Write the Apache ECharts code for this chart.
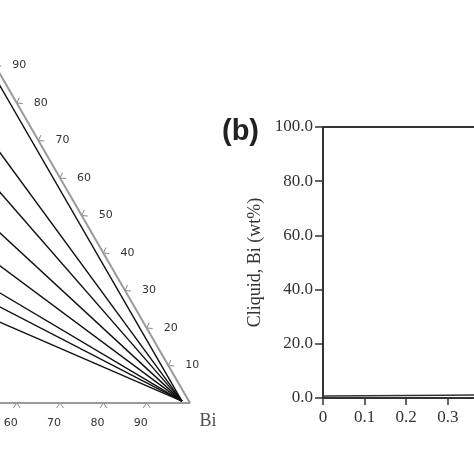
<!DOCTYPE html>
<html>
<head>
<meta charset="utf-8">
<script src="https://cdn.jsdelivr.net/npm/echarts@6/dist/echarts.min.js"></script>
<style>
  html, body { margin: 0; padding: 0; background: #fff; }
  #chart { width: 474px; height: 474px; }
</style>
</head>
<body>
<div id="chart"></div>
<script>
// (a) ternary diagram, compositions as [Bi wt%, top component wt%]
const biTicks = [10, 20, 30, 40, 50, 60, 70, 80, 90];
const topTicks = [10, 20, 30, 40, 50, 60, 70, 80, 90];
const liquidPoint = [97.9, 0.5];
// far ends of the tie-lines where they leave the picture
const tieEnds = [
  [1.6, 96.8],
  [18.7, 70.3],
  [24.1, 59.3],
  [29.9, 47.8],
  [34.6, 38.5],
  [38.4, 30.9],
  [40.3, 27.0],
  [42.4, 22.7]
];
const corners = [[0, 100], [100, 0], [0, 0]];

// (b) liquid composition vs x
const xValues = [0, 0.1, 0.2, 0.3, 0.4, 0.5, 0.6];
const cLiquidBi = [0.7, 0.8, 0.9, 1.0, 1.1, 1.2, 1.3];

// ternary -> cartesian
function tern(c) {
  return [c[0] + c[1] / 2, c[1] * Math.sqrt(3) / 2];
}

const chartDom = document.getElementById('chart');
const myChart = echarts.init(chartDom);

const tieSeries = tieEnds.map(function (end) {
  return {
    type: 'line',
    xAxisIndex: 0,
    yAxisIndex: 0,
    data: [tern(liquidPoint), tern(end)],
    showSymbol: false,
    silent: true,
    lineStyle: { color: '#111', width: 1.4 }
  };
});

// tick items: [edge, value]  edge 0 = bottom (Bi), 1 = right edge (top component)
const tickItems = biTicks.map(v => [0, v]).concat(topTicks.map(v => [1, v]));

function renderTick(params, api) {
  const edge = api.value(0);
  const v = api.value(1);
  const comp = edge === 0 ? [v, 0] : [100 - v, v];
  const p = api.coord(tern(comp));
  const n = edge === 0 ? [0, 1] : [0.866, -0.5];
  const L = 6, a = 35 * Math.PI / 180;
  function rot(t) {
    return [n[0] * Math.cos(t) - n[1] * Math.sin(t), n[0] * Math.sin(t) + n[1] * Math.cos(t)];
  }
  const r1 = rot(a), r2 = rot(-a);
  const lx = edge === 0 ? p[0] - 6 : p[0] + 24;
  const ly = edge === 0 ? p[1] + 20 : p[1];
  return {
    type: 'group',
    children: [
      {
        type: 'polyline',
        shape: { points: [[p[0] + r1[0] * L, p[1] + r1[1] * L], p, [p[0] + r2[0] * L, p[1] + r2[1] * L]] },
        style: { stroke: '#888', lineWidth: 1, fill: null }
      },
      {
        type: 'text',
        style: {
          x: lx, y: ly, text: String(v),
          align: 'center', verticalAlign: 'middle',
          font: '11px "DejaVu Sans"', fill: '#333'
        }
      }
    ]
  };
}

const option = {
  animation: false,
  title: {
    text: '(b)',
    left: 217,
    top: 112,
    textStyle: { fontFamily: 'Liberation Sans', fontWeight: 'bold', fontSize: 29, color: '#222' }
  },
  grid: [
    { left: 0, top: 0, width: 240, height: 474, outerBoundsMode: 'none' },
    {
      left: 323, top: 127, width: 249.6, height: 271, outerBoundsMode: 'none',
      show: true, borderColor: '#333', borderWidth: 2
    }
  ],
  xAxis: [
    { gridIndex: 0, type: 'value', min: 56.12, max: 111.55, show: false },
    {
      gridIndex: 1, type: 'value', min: 0, max: 0.6, interval: 0.1,
      axisLine: { lineStyle: { color: '#333', width: 2 } },
      axisTick: { length: 7, lineStyle: { color: '#333', width: 1.5 } },
      axisLabel: {
        margin: 11, color: '#333', fontFamily: 'Liberation Serif', fontSize: 17,
        formatter: v => (v === 0 ? '0' : v.toFixed(1))
      },
      splitLine: { show: false }
    }
  ],
  yAxis: [
    { gridIndex: 0, type: 'value', min: -16.4, max: 93.07, show: false },
    {
      gridIndex: 1, type: 'value', min: 0, max: 100, interval: 20,
      name: 'Cliquid, Bi (wt%)',
      nameLocation: 'middle',
      nameGap: 58,
      nameRotate: 90,
      nameTextStyle: { fontFamily: 'Liberation Serif', fontSize: 18, color: '#333' },
      axisLine: { lineStyle: { color: '#333', width: 2 } },
      axisTick: { length: 8, lineStyle: { color: '#333', width: 1.5 } },
      axisLabel: {
        margin: 10, color: '#333', fontFamily: 'Liberation Serif', fontSize: 17,
        formatter: v => v.toFixed(1)
      },
      splitLine: { show: false }
    }
  ],
  series: [
    {
      type: 'line',
      xAxisIndex: 0,
      yAxisIndex: 0,
      data: corners.map(tern),
      showSymbol: false,
      silent: true,
      lineStyle: { color: '#9a9a9a', width: 2 }
    }
  ].concat(tieSeries).concat([
    {
      type: 'custom',
      xAxisIndex: 0,
      yAxisIndex: 0,
      data: tickItems,
      renderItem: renderTick,
      silent: true
    },
    {
      type: 'scatter',
      xAxisIndex: 0,
      yAxisIndex: 0,
      data: [tern([100, 0])],
      symbolSize: 0,
      silent: true,
      label: {
        show: true,
        formatter: 'Bi',
        position: [18, 18],
        align: 'center',
        verticalAlign: 'middle',
        fontFamily: 'Liberation Serif',
        fontSize: 18,
        color: '#222'
      }
    },
    {
      type: 'line',
      xAxisIndex: 1,
      yAxisIndex: 1,
      data: xValues.map((x, i) => [x, cLiquidBi[i]]),
      showSymbol: false,
      lineStyle: { color: '#333', width: 1.5 }
    }
  ])
};

option && myChart.setOption(option);
</script>
</body>
</html>
